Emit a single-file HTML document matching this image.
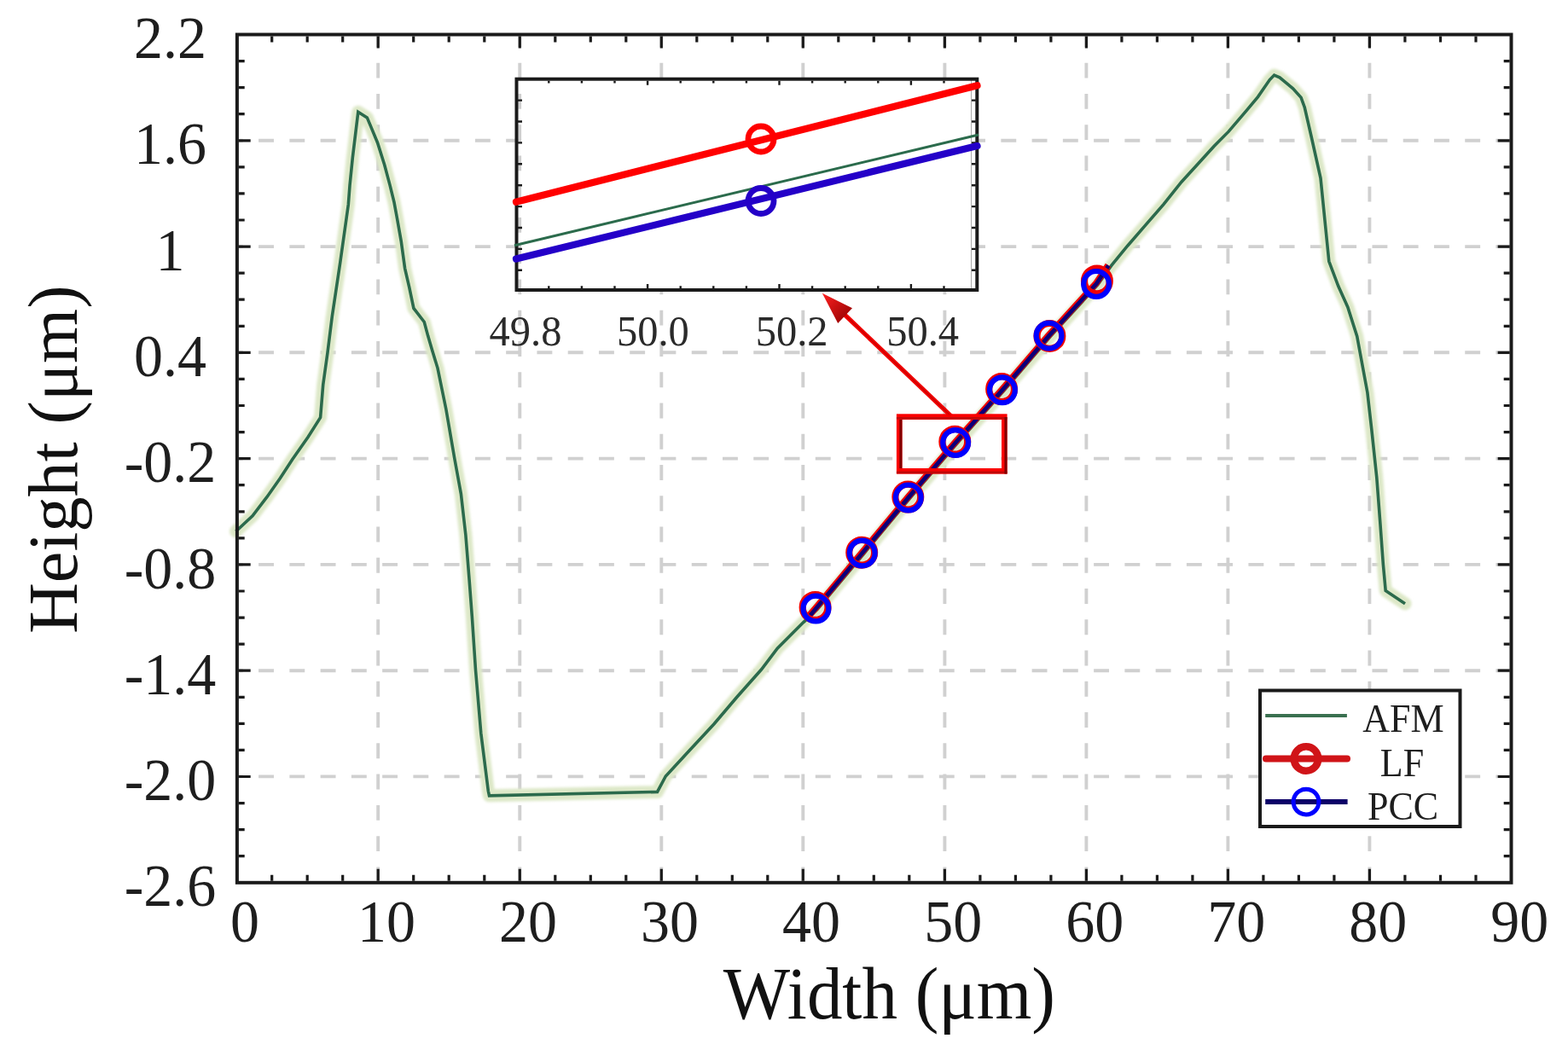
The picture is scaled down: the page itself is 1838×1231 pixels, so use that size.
<!DOCTYPE html>
<html><head><meta charset="utf-8"><title>Height profile</title>
<style>html,body{margin:0;padding:0;background:#fff;overflow:hidden}svg{display:block}</style>
</head><body>
<svg width="1838" height="1231" viewBox="0 0 1838 1231">
<defs><filter id="glow" x="-5%" y="-5%" width="110%" height="110%"><feGaussianBlur stdDeviation="1.4"/></filter><linearGradient id="ah" x1="0" y1="0" x2="1" y2="1"><stop offset="0" stop-color="#ff2020"/><stop offset="1" stop-color="#8a0000"/></linearGradient></defs>
<rect width="1838" height="1231" fill="#fff"/>
<line x1="443.2" y1="1034.8" x2="443.2" y2="40.5" stroke="#d0d0d0" stroke-width="3.9" stroke-dasharray="17.9 18.36" stroke-dashoffset="-0.5"/>
<line x1="609.3" y1="1034.8" x2="609.3" y2="40.5" stroke="#d0d0d0" stroke-width="3.9" stroke-dasharray="17.9 18.36" stroke-dashoffset="-0.5"/>
<line x1="775.3" y1="1034.8" x2="775.3" y2="40.5" stroke="#d0d0d0" stroke-width="3.9" stroke-dasharray="17.9 18.36" stroke-dashoffset="-0.5"/>
<line x1="941.3" y1="1034.8" x2="941.3" y2="40.5" stroke="#d0d0d0" stroke-width="3.9" stroke-dasharray="17.9 18.36" stroke-dashoffset="-0.5"/>
<line x1="1107.4" y1="1034.8" x2="1107.4" y2="40.5" stroke="#d0d0d0" stroke-width="3.9" stroke-dasharray="17.9 18.36" stroke-dashoffset="-0.5"/>
<line x1="1273.4" y1="1034.8" x2="1273.4" y2="40.5" stroke="#d0d0d0" stroke-width="3.9" stroke-dasharray="17.9 18.36" stroke-dashoffset="-0.5"/>
<line x1="1439.4" y1="1034.8" x2="1439.4" y2="40.5" stroke="#d0d0d0" stroke-width="3.9" stroke-dasharray="17.9 18.36" stroke-dashoffset="-0.5"/>
<line x1="1605.4" y1="1034.8" x2="1605.4" y2="40.5" stroke="#d0d0d0" stroke-width="3.9" stroke-dasharray="17.9 18.36" stroke-dashoffset="-0.5"/>
<line x1="277.9" y1="164.8" x2="1771.5" y2="164.8" stroke="#d0d0d0" stroke-width="3.9" stroke-dasharray="17.9 18.36" stroke-dashoffset="11.06"/>
<line x1="277.9" y1="289.1" x2="1771.5" y2="289.1" stroke="#d0d0d0" stroke-width="3.9" stroke-dasharray="17.9 18.36" stroke-dashoffset="11.06"/>
<line x1="277.9" y1="413.3" x2="1771.5" y2="413.3" stroke="#d0d0d0" stroke-width="3.9" stroke-dasharray="17.9 18.36" stroke-dashoffset="11.06"/>
<line x1="277.9" y1="537.6" x2="1771.5" y2="537.6" stroke="#d0d0d0" stroke-width="3.9" stroke-dasharray="17.9 18.36" stroke-dashoffset="11.06"/>
<line x1="277.9" y1="661.9" x2="1771.5" y2="661.9" stroke="#d0d0d0" stroke-width="3.9" stroke-dasharray="17.9 18.36" stroke-dashoffset="11.06"/>
<line x1="277.9" y1="786.2" x2="1771.5" y2="786.2" stroke="#d0d0d0" stroke-width="3.9" stroke-dasharray="17.9 18.36" stroke-dashoffset="11.06"/>
<line x1="277.9" y1="910.4" x2="1771.5" y2="910.4" stroke="#d0d0d0" stroke-width="3.9" stroke-dasharray="17.9 18.36" stroke-dashoffset="11.06"/>
<polyline points="276.5,623.0 296.0,604.8 312.9,582.7 328.5,560.6 342.8,538.5 361.0,512.5 375.6,489.5 378.7,451.3 384.0,413.3 389.3,371.0 398.8,307.6 408.3,240.0 410.0,217.6 413.3,185.0 419.8,131.2 430.3,137.9 434.4,147.6 442.5,167.2 450.7,193.2 457.2,217.6 462.0,237.1 465.3,255.0 470.2,282.6 474.6,314.6 479.7,336.6 484.9,361.4 497.3,377.5 501.6,393.6 506.8,411.2 513.0,431.6 522.9,480.0 532.8,537.5 540.4,579.1 545.9,627.4 550.1,680.0 553.3,722.3 557.5,785.7 563.8,859.7 572.3,927.3 573.5,932.8 770.5,928.4 780.3,910.0 808.0,880.0 836.8,849.0 864.0,817.0 892.4,785.0 911.2,760.2 941.8,729.6 958.0,714.5 1012.3,649.5 1066.4,584.4 1121.7,520.0 1176.5,458.3 1231.2,394.6 1286.7,333.9 1302.7,311.4 1321.7,288.2 1342.8,263.9 1363.9,239.6 1385.0,213.2 1406.2,190.0 1423.0,171.5 1440.0,154.4 1460.7,130.2 1474.5,113.6 1488.3,93.6 1493.6,88.1 1500.0,90.9 1510.0,99.2 1515.6,103.8 1525.1,114.4 1529.3,126.0 1537.1,160.0 1548.0,208.8 1552.9,257.6 1557.8,306.3 1568.8,335.6 1579.8,360.0 1590.7,394.1 1602.9,460.2 1607.9,504.3 1613.8,560.0 1618.0,615.2 1621.4,662.2 1624.2,692.6 1647.0,707.8" fill="none" stroke="#dde8c8" stroke-width="15" stroke-linejoin="round" stroke-linecap="round" filter="url(#glow)"/>
<polyline points="276.5,623.0 296.0,604.8 312.9,582.7 328.5,560.6 342.8,538.5 361.0,512.5 375.6,489.5 378.7,451.3 384.0,413.3 389.3,371.0 398.8,307.6 408.3,240.0 410.0,217.6 413.3,185.0 419.8,131.2 430.3,137.9 434.4,147.6 442.5,167.2 450.7,193.2 457.2,217.6 462.0,237.1 465.3,255.0 470.2,282.6 474.6,314.6 479.7,336.6 484.9,361.4 497.3,377.5 501.6,393.6 506.8,411.2 513.0,431.6 522.9,480.0 532.8,537.5 540.4,579.1 545.9,627.4 550.1,680.0 553.3,722.3 557.5,785.7 563.8,859.7 572.3,927.3 573.5,932.8 770.5,928.4 780.3,910.0 808.0,880.0 836.8,849.0 864.0,817.0 892.4,785.0 911.2,760.2 941.8,729.6 958.0,714.5 1012.3,649.5 1066.4,584.4 1121.7,520.0 1176.5,458.3 1231.2,394.6 1286.7,333.9 1302.7,311.4 1321.7,288.2 1342.8,263.9 1363.9,239.6 1385.0,213.2 1406.2,190.0 1423.0,171.5 1440.0,154.4 1460.7,130.2 1474.5,113.6 1488.3,93.6 1493.6,88.1 1500.0,90.9 1510.0,99.2 1515.6,103.8 1525.1,114.4 1529.3,126.0 1537.1,160.0 1548.0,208.8 1552.9,257.6 1557.8,306.3 1568.8,335.6 1579.8,360.0 1590.7,394.1 1602.9,460.2 1607.9,504.3 1613.8,560.0 1618.0,615.2 1621.4,662.2 1624.2,692.6 1647.0,707.8" fill="none" stroke="#2b6a4c" stroke-width="3.6" stroke-linejoin="miter" stroke-linecap="butt"/>
<polyline points="946.2,724.2 956.0,712.9 1010.3,647.9 1064.4,582.8 1119.7,518.4 1174.5,456.7 1229.2,393.0 1284.7,332.3 1299.0,310.8" fill="none" stroke="#f00000" stroke-width="7.6" stroke-linejoin="round"/>
<polyline points="946.8,725 956.4,713.5 1010.7,648.5 1064.8,583.4 1120.1,519.0 1174.9,457.3 1229.6,393.6 1285.1,332.9 1299.4,311.4" fill="none" stroke="#0c0078" stroke-width="4.8" stroke-linejoin="round"/>
<circle cx="955.6" cy="712.0" r="14.9" fill="none" stroke="#f00000" stroke-width="8.2"/>
<circle cx="1010.2" cy="647.7" r="14.9" fill="none" stroke="#f00000" stroke-width="8.2"/>
<circle cx="1064.3" cy="582.6" r="14.9" fill="none" stroke="#f00000" stroke-width="8.2"/>
<circle cx="1119.3" cy="517.8" r="14.9" fill="none" stroke="#f00000" stroke-width="8.2"/>
<circle cx="1174.1" cy="456.1" r="14.9" fill="none" stroke="#f00000" stroke-width="8.2"/>
<circle cx="1230.4" cy="393.9" r="14.9" fill="none" stroke="#f00000" stroke-width="8.2"/>
<circle cx="1285.9" cy="329.4" r="14.9" fill="none" stroke="#f00000" stroke-width="8.2"/>
<circle cx="956.4" cy="713.5" r="14.9" fill="none" stroke="#0000ff" stroke-width="6.2"/>
<circle cx="1010.7" cy="648.5" r="14.9" fill="none" stroke="#0000ff" stroke-width="6.2"/>
<circle cx="1064.8" cy="583.4" r="14.9" fill="none" stroke="#0000ff" stroke-width="6.2"/>
<circle cx="1120.1" cy="519.0" r="14.9" fill="none" stroke="#0000ff" stroke-width="6.2"/>
<circle cx="1174.9" cy="457.3" r="14.9" fill="none" stroke="#0000ff" stroke-width="6.2"/>
<circle cx="1229.6" cy="393.6" r="14.9" fill="none" stroke="#0000ff" stroke-width="6.2"/>
<circle cx="1285.1" cy="332.9" r="14.9" fill="none" stroke="#0000ff" stroke-width="6.2"/>
<rect x="1054.2" y="488.6" width="123.1" height="63.7" fill="none" stroke="#fa0000" stroke-width="6.6"/>
<path d="M1050.9,490.2H1180.6M1050.9,553.9H1180.6" stroke="#c00808" stroke-width="2.6" fill="none"/>
<path d="M1055.9,491.9V549.0M1179.0,488.9V555.6" stroke="#820000" stroke-width="3.1" fill="none"/>
<line x1="1114.7" y1="487.6" x2="987" y2="366" stroke="#f00000" stroke-width="5.2"/>
<line x1="1113" y1="486" x2="987" y2="366" stroke="#b80000" stroke-width="1.4" opacity="0.6"/>
<polygon points="963.8,343.8 999,361.3 982.2,379" fill="url(#ah)"/>
<path d="M318.7,1032.8V1025.8M318.7,42.5V49.5M360.2,1032.8V1025.8M360.2,42.5V49.5M401.7,1032.8V1025.8M401.7,42.5V49.5M443.2,1032.8V1018.8M443.2,42.5V56.5M484.7,1032.8V1025.8M484.7,42.5V49.5M526.2,1032.8V1025.8M526.2,42.5V49.5M567.8,1032.8V1025.8M567.8,42.5V49.5M609.3,1032.8V1018.8M609.3,42.5V56.5M650.8,1032.8V1025.8M650.8,42.5V49.5M692.3,1032.8V1025.8M692.3,42.5V49.5M733.8,1032.8V1025.8M733.8,42.5V49.5M775.3,1032.8V1018.8M775.3,42.5V56.5M816.8,1032.8V1025.8M816.8,42.5V49.5M858.3,1032.8V1025.8M858.3,42.5V49.5M899.8,1032.8V1025.8M899.8,42.5V49.5M941.3,1032.8V1018.8M941.3,42.5V56.5M982.8,1032.8V1025.8M982.8,42.5V49.5M1024.3,1032.8V1025.8M1024.3,42.5V49.5M1065.8,1032.8V1025.8M1065.8,42.5V49.5M1107.4,1032.8V1018.8M1107.4,42.5V56.5M1148.9,1032.8V1025.8M1148.9,42.5V49.5M1190.4,1032.8V1025.8M1190.4,42.5V49.5M1231.9,1032.8V1025.8M1231.9,42.5V49.5M1273.4,1032.8V1018.8M1273.4,42.5V56.5M1314.9,1032.8V1025.8M1314.9,42.5V49.5M1356.4,1032.8V1025.8M1356.4,42.5V49.5M1397.9,1032.8V1025.8M1397.9,42.5V49.5M1439.4,1032.8V1018.8M1439.4,42.5V56.5M1480.9,1032.8V1025.8M1480.9,42.5V49.5M1522.4,1032.8V1025.8M1522.4,42.5V49.5M1563.9,1032.8V1025.8M1563.9,42.5V49.5M1605.4,1032.8V1018.8M1605.4,42.5V56.5M1646.9,1032.8V1025.8M1646.9,42.5V49.5M1688.5,1032.8V1025.8M1688.5,42.5V49.5M1730.0,1032.8V1025.8M1730.0,42.5V49.5M279.7,71.6H286.7M1769.7,71.6H1762.7M279.7,102.6H286.7M1769.7,102.6H1762.7M279.7,133.7H286.7M1769.7,133.7H1762.7M279.7,164.8H293.7M1769.7,164.8H1755.7M279.7,195.9H286.7M1769.7,195.9H1762.7M279.7,226.9H286.7M1769.7,226.9H1762.7M279.7,258.0H286.7M1769.7,258.0H1762.7M279.7,289.1H293.7M1769.7,289.1H1755.7M279.7,320.1H286.7M1769.7,320.1H1762.7M279.7,351.2H286.7M1769.7,351.2H1762.7M279.7,382.3H286.7M1769.7,382.3H1762.7M279.7,413.4H293.7M1769.7,413.4H1755.7M279.7,444.4H286.7M1769.7,444.4H1762.7M279.7,475.5H286.7M1769.7,475.5H1762.7M279.7,506.6H286.7M1769.7,506.6H1762.7M279.7,537.6H293.7M1769.7,537.6H1755.7M279.7,568.7H286.7M1769.7,568.7H1762.7M279.7,599.8H286.7M1769.7,599.8H1762.7M279.7,630.9H286.7M1769.7,630.9H1762.7M279.7,661.9H293.7M1769.7,661.9H1755.7M279.7,693.0H286.7M1769.7,693.0H1762.7M279.7,724.1H286.7M1769.7,724.1H1762.7M279.7,755.2H286.7M1769.7,755.2H1762.7M279.7,786.2H293.7M1769.7,786.2H1755.7M279.7,817.3H286.7M1769.7,817.3H1762.7M279.7,848.4H286.7M1769.7,848.4H1762.7M279.7,879.4H286.7M1769.7,879.4H1762.7M279.7,910.5H293.7M1769.7,910.5H1755.7M279.7,941.6H286.7M1769.7,941.6H1762.7M279.7,972.7H286.7M1769.7,972.7H1762.7M279.7,1003.7H286.7M1769.7,1003.7H1762.7" stroke="#1a1a1a" stroke-width="3.2" fill="none"/>
<rect x="277.9" y="40.5" width="1493.6" height="994.3" fill="none" stroke="#1a1a1a" stroke-width="4"/>
<text transform="translate(199.5,68.1) scale(1,1.04)" text-anchor="middle" font-family='"Liberation Serif", "Times New Roman", serif' font-size="68" fill="#1e1e1e">2.2</text>
<text transform="translate(199.5,192.4) scale(1,1.04)" text-anchor="middle" font-family='"Liberation Serif", "Times New Roman", serif' font-size="68" fill="#1e1e1e">1.6</text>
<text transform="translate(199.5,316.7) scale(1,1.04)" text-anchor="middle" font-family='"Liberation Serif", "Times New Roman", serif' font-size="68" fill="#1e1e1e">1</text>
<text transform="translate(199.5,441.0) scale(1,1.04)" text-anchor="middle" font-family='"Liberation Serif", "Times New Roman", serif' font-size="68" fill="#1e1e1e">0.4</text>
<text transform="translate(199.5,565.2) scale(1,1.04)" text-anchor="middle" font-family='"Liberation Serif", "Times New Roman", serif' font-size="68" fill="#1e1e1e">-0.2</text>
<text transform="translate(199.5,689.5) scale(1,1.04)" text-anchor="middle" font-family='"Liberation Serif", "Times New Roman", serif' font-size="68" fill="#1e1e1e">-0.8</text>
<text transform="translate(199.5,813.8) scale(1,1.04)" text-anchor="middle" font-family='"Liberation Serif", "Times New Roman", serif' font-size="68" fill="#1e1e1e">-1.4</text>
<text transform="translate(199.5,938.1) scale(1,1.04)" text-anchor="middle" font-family='"Liberation Serif", "Times New Roman", serif' font-size="68" fill="#1e1e1e">-2.0</text>
<text transform="translate(199.5,1062.4) scale(1,1.04)" text-anchor="middle" font-family='"Liberation Serif", "Times New Roman", serif' font-size="68" fill="#1e1e1e">-2.6</text>
<text transform="translate(287.0,1104.2) scale(1,1.04)" text-anchor="middle" font-family='"Liberation Serif", "Times New Roman", serif' font-size="68" fill="#1e1e1e">0</text>
<text transform="translate(453.0,1104.2) scale(1,1.04)" text-anchor="middle" font-family='"Liberation Serif", "Times New Roman", serif' font-size="68" fill="#1e1e1e">10</text>
<text transform="translate(619.1,1104.2) scale(1,1.04)" text-anchor="middle" font-family='"Liberation Serif", "Times New Roman", serif' font-size="68" fill="#1e1e1e">20</text>
<text transform="translate(785.1,1104.2) scale(1,1.04)" text-anchor="middle" font-family='"Liberation Serif", "Times New Roman", serif' font-size="68" fill="#1e1e1e">30</text>
<text transform="translate(951.1,1104.2) scale(1,1.04)" text-anchor="middle" font-family='"Liberation Serif", "Times New Roman", serif' font-size="68" fill="#1e1e1e">40</text>
<text transform="translate(1117.2,1104.2) scale(1,1.04)" text-anchor="middle" font-family='"Liberation Serif", "Times New Roman", serif' font-size="68" fill="#1e1e1e">50</text>
<text transform="translate(1283.2,1104.2) scale(1,1.04)" text-anchor="middle" font-family='"Liberation Serif", "Times New Roman", serif' font-size="68" fill="#1e1e1e">60</text>
<text transform="translate(1449.2,1104.2) scale(1,1.04)" text-anchor="middle" font-family='"Liberation Serif", "Times New Roman", serif' font-size="68" fill="#1e1e1e">70</text>
<text transform="translate(1615.2,1104.2) scale(1,1.04)" text-anchor="middle" font-family='"Liberation Serif", "Times New Roman", serif' font-size="68" fill="#1e1e1e">80</text>
<text transform="translate(1781.3,1104.2) scale(1,1.04)" text-anchor="middle" font-family='"Liberation Serif", "Times New Roman", serif' font-size="68" fill="#1e1e1e">90</text>
<text transform="translate(1042.4,1194.3) scale(1,1.05)" text-anchor="middle" font-family='"Liberation Serif", "Times New Roman", serif' font-size="83" fill="#111">Width (μm)</text>
<text transform="translate(90.1,538.5) rotate(-90)" x="0" y="0" text-anchor="middle" font-family='"Liberation Serif", "Times New Roman", serif' font-size="82.5" fill="#111">Height (μm)</text>
<rect x="611.5" y="92.7" width="533.8" height="247.3" fill="#fff"/>
<path d="M643.3,338.0V335.2M643.3,94.7V97.5M681.9,338.0V335.2M681.9,94.7V97.5M720.5,338.0V335.2M720.5,94.7V97.5M759.1,338.0V333.0M759.1,94.7V99.7M797.7,338.0V335.2M797.7,94.7V97.5M836.3,338.0V335.2M836.3,94.7V97.5M874.9,338.0V335.2M874.9,94.7V97.5M913.5,338.0V333.0M913.5,94.7V99.7M952.1,338.0V335.2M952.1,94.7V97.5M990.7,338.0V335.2M990.7,94.7V97.5M1029.3,338.0V335.2M1029.3,94.7V97.5M1067.9,338.0V333.0M1067.9,94.7V99.7M1106.5,338.0V335.2M1106.5,94.7V97.5M607.0,117.6H612.0M1143.8,117.6H1138.8M607.0,142.5H612.0M1143.8,142.5H1138.8M607.0,167.4H612.0M1143.8,167.4H1138.8M607.0,192.3H612.0M1143.8,192.3H1138.8M607.0,217.2H612.0M1143.8,217.2H1138.8M607.0,242.1H612.0M1143.8,242.1H1138.8M607.0,267.0H612.0M1143.8,267.0H1138.8M607.0,291.9H612.0M1143.8,291.9H1138.8M607.0,316.8H612.0M1143.8,316.8H1138.8" stroke="#1a1a1a" stroke-width="2.4" fill="none"/>
<line x1="1138.5" y1="92.7" x2="1138.5" y2="340" stroke="#aaa" stroke-width="1"/>
<rect x="605.5" y="92.7" width="539.8" height="247.3" fill="none" stroke="#1a1a1a" stroke-width="4"/>
<line x1="603" y1="287.7" x2="1147" y2="158" stroke="#2b6b4c" stroke-width="3"/>
<line x1="605" y1="236.7" x2="1145.5" y2="100.2" stroke="#ff0000" stroke-width="8.2" stroke-linecap="round"/>
<line x1="605" y1="303.6" x2="1145.5" y2="171.1" stroke="#2400c8" stroke-width="8.2" stroke-linecap="round"/>
<circle cx="892" cy="163" r="15" fill="none" stroke="#ff0000" stroke-width="6.8"/>
<circle cx="892" cy="235.5" r="15" fill="none" stroke="#2400c8" stroke-width="6.8"/>
<text transform="translate(616,405) scale(1,1.05)" text-anchor="middle" font-family='"Liberation Serif", "Times New Roman", serif' font-size="48.5" fill="#2a2a2a">49.8</text>
<text transform="translate(765.4,405) scale(1,1.05)" text-anchor="middle" font-family='"Liberation Serif", "Times New Roman", serif' font-size="48.5" fill="#2a2a2a">50.0</text>
<text transform="translate(928.1,405) scale(1,1.05)" text-anchor="middle" font-family='"Liberation Serif", "Times New Roman", serif' font-size="48.5" fill="#2a2a2a">50.2</text>
<text transform="translate(1081.6,405) scale(1,1.05)" text-anchor="middle" font-family='"Liberation Serif", "Times New Roman", serif' font-size="48.5" fill="#2a2a2a">50.4</text>
<rect x="1477" y="809.5" width="234.5" height="159.5" fill="#fff" stroke="#1a1a1a" stroke-width="4"/>
<line x1="1483.2" y1="839" x2="1578.9" y2="839" stroke="#3a7050" stroke-width="4.2"/>
<line x1="1484" y1="889.5" x2="1579" y2="889.5" stroke="#d01418" stroke-width="8" stroke-linecap="round"/>
<circle cx="1531" cy="889.5" r="14.3" fill="none" stroke="#d01418" stroke-width="8.5"/>
<line x1="1483.2" y1="940.1" x2="1579.6" y2="940.1" stroke="#0c0068" stroke-width="6"/>
<circle cx="1531" cy="940.1" r="14.9" fill="none" stroke="#0000ff" stroke-width="5"/>
<text transform="translate(1645,857.5) scale(1,1.05)" text-anchor="middle" font-family='"Liberation Serif", "Times New Roman", serif' font-size="44" fill="#1e1e1e">AFM</text>
<text transform="translate(1643.5,910) scale(1,1.05)" text-anchor="middle" font-family='"Liberation Serif", "Times New Roman", serif' font-size="44" fill="#1e1e1e">LF</text>
<text transform="translate(1644.5,961) scale(1,1.05)" text-anchor="middle" font-family='"Liberation Serif", "Times New Roman", serif' font-size="44" fill="#1e1e1e">PCC</text>
</svg>
</body></html>
